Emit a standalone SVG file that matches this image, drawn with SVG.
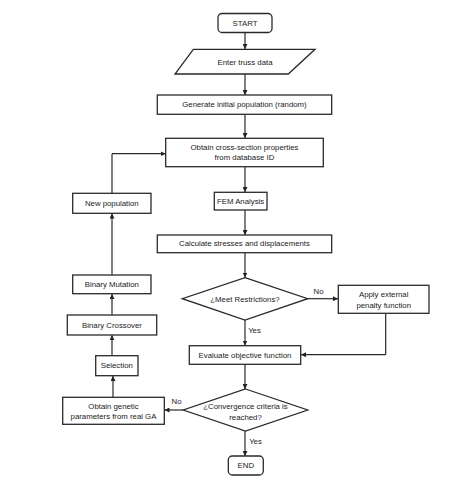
<svg xmlns="http://www.w3.org/2000/svg" width="474" height="500" viewBox="0 0 474 500">
<defs>
<marker id="ah" viewBox="0 0 10 10" refX="10" refY="5" markerWidth="5" markerHeight="5" orient="auto" markerUnits="userSpaceOnUse">
<path d="M0,0 L10,5 L0,10 z" fill="#222"/>
</marker>
</defs>
<style>
.s{fill:#fff;stroke:#2a2a2a;stroke-width:1.3}
.c{fill:none;stroke:#2a2a2a;stroke-width:1.2;marker-end:url(#ah)}
.l{fill:none;stroke:#2a2a2a;stroke-width:1.2}
text{font-family:"Liberation Sans",Arial,sans-serif;font-size:7.8px;fill:#1a1a1a;text-anchor:middle;dominant-baseline:central}
</style>
<rect width="474" height="500" fill="#fff"/>
<g id="connectors">
<path class="c" d="M245,32.5 V49"/>
<path class="c" d="M245,74 V95"/>
<path class="c" d="M245,114.5 V138"/>
<path class="c" d="M245,167 V192"/>
<path class="c" d="M245,210 V235"/>
<path class="c" d="M245,253 V277.5"/>
<path class="c" d="M307.7,298.7 H338"/>
<path class="c" d="M245,320 V345.5"/>
<path class="l" d="M385.7,313.5 V354.7"/>
<path class="c" d="M385.7,354.7 H301"/>
<path class="c" d="M245,364.5 V389"/>
<path class="c" d="M183.3,410 H164.5"/>
<path class="c" d="M245,431 V456"/>
<path class="c" d="M113,397.3 V376"/>
<path class="c" d="M112,355.7 V335.2"/>
<path class="c" d="M112,315 V294"/>
<path class="c" d="M112,275 V213.5"/>
<path class="l" d="M112,193.3 V153.7"/>
<path class="c" d="M112,153.7 H165.5"/>
</g>
<g id="start"><rect class="s" x="218" y="13.5" width="54" height="19" rx="4"/><text x="245" y="23">START</text></g>
<g id="enter"><polygon class="s" points="193.3,49.3 315,49.3 288.3,74 175,74"/><text x="245" y="62">Enter truss data</text></g>
<g id="generate"><rect class="s" x="157.3" y="95" width="174.4" height="19.3"/><text x="244.5" y="104.8">Generate initial population (random)</text></g>
<g id="obtain"><rect class="s" x="165.7" y="138.3" width="157.6" height="28.4"/><text x="244.5" y="147.7">Obtain cross-section properties</text><text x="244.5" y="157.7">from database ID</text></g>
<g id="fem"><rect class="s" x="214.3" y="192.3" width="52.7" height="17.7"/><text x="240.6" y="201.3">FEM Analysis</text></g>
<g id="calculate"><rect class="s" x="157.3" y="235" width="174.4" height="17.7"/><text x="244.5" y="243.8">Calculate stresses and displacements</text></g>
<g id="meet"><polygon class="s" points="245,277.7 307.7,298.7 245,320 182.3,298.7"/><text x="245" y="299">¿Meet Restrictions?</text></g>
<text x="318.5" y="291">No</text>
<g id="penalty"><rect class="s" x="338.3" y="285.3" width="90.7" height="28"/><text x="383.7" y="294.5">Apply external</text><text x="383.7" y="305">penalty function</text></g>
<text x="254.5" y="330.5">Yes</text>
<g id="evaluate"><rect class="s" x="189.3" y="345.7" width="111.4" height="18.6"/><text x="245" y="355">Evaluate objective function</text></g>
<g id="convergence"><polygon class="s" points="245.5,389 307.7,410 245.5,431 183.3,410"/><text x="245.5" y="406.7">¿Convergence criteria is</text><text x="245.5" y="417">reached?</text></g>
<text x="176.5" y="401">No</text>
<text x="255.5" y="441">Yes</text>
<g id="end"><rect class="s" x="228.3" y="456" width="35" height="19" rx="4"/><text x="245.8" y="465.8">END</text></g>
<g id="genetic"><rect class="s" x="62.7" y="397.3" width="101.6" height="27"/><text x="113.5" y="406">Obtain genetic</text><text x="113.5" y="416">parameters from real GA</text></g>
<g id="selection"><rect class="s" x="95.7" y="355.7" width="42.3" height="20"/><text x="116.8" y="365.7">Selection</text></g>
<g id="crossover"><rect class="s" x="67.3" y="315" width="89.4" height="20"/><text x="112" y="325">Binary Crossover</text></g>
<g id="mutation"><rect class="s" x="72.7" y="275" width="78.3" height="18.7"/><text x="111.8" y="284.3">Binary Mutation</text></g>
<g id="newpop"><rect class="s" x="72.7" y="193.3" width="78.3" height="20"/><text x="111.8" y="203.3">New population</text></g>
</svg>
